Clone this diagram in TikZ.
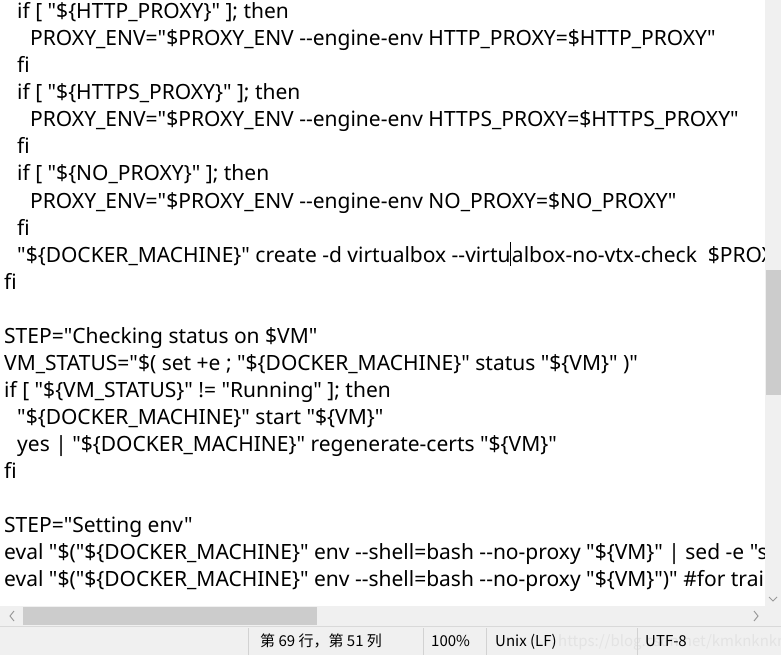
\documentclass[tikz,border=0pt]{standalone}
\usepackage{fontspec}
\newfontfamily\codef{Noto Sans}
\newfontfamily\cjk{Noto Sans CJK SC}
\begin{document}
\begin{tikzpicture}[x=1pt,y=-1pt,
  code/.style={anchor=base west,inner sep=0pt,font=\codef\fontsize{21}{21}\selectfont},
  stat/.style={anchor=base west,inner sep=0pt,font=\cjk\fontsize{15}{15}\selectfont}]
\useasboundingbox (0,0) rectangle (781,655);
\fill[white] (0,0) rectangle (781,655);
\begin{scope}
\clip (0,0) rectangle (765,606);
\foreach \ind/\t [count=\i] in {
 17/{if [ "\$\{HTTP\_PROXY\}" ]; then},
 30/{PROXY\_ENV="\$PROXY\_ENV --engine-env HTTP\_PROXY=\$HTTP\_PROXY"},
 17/{fi},
 17/{if [ "\$\{HTTPS\_PROXY\}" ]; then},
 30/{PROXY\_ENV="\$PROXY\_ENV --engine-env HTTPS\_PROXY=\$HTTPS\_PROXY"},
 17/{fi},
 17/{if [ "\$\{NO\_PROXY\}" ]; then},
 30/{PROXY\_ENV="\$PROXY\_ENV --engine-env NO\_PROXY=\$NO\_PROXY"},
 17/{fi},
 17/{"\$\{DOCKER\_MACHINE\}" create -d virtualbox --virtu},
 4/{fi},
 4/{},
 4/{STEP="Checking status on \$VM"},
 4/{VM\_STATUS="\$( set +e ; "\$\{DOCKER\_MACHINE\}" status "\$\{VM\}" )"},
 4/{if [ "\$\{VM\_STATUS\}" != "Running" ]; then},
 17/{"\$\{DOCKER\_MACHINE\}" start "\$\{VM\}"},
 17/{yes | "\$\{DOCKER\_MACHINE\}" regenerate-certs "\$\{VM\}"},
 4/{fi},
 4/{},
 4/{STEP="Setting env"},
 4/{eval "\$("\$\{DOCKER\_MACHINE\}" env --shell=bash --no-proxy "\$\{VM\}" | sed -e "s/export/SETX/g"},
 4/{eval "\$("\$\{DOCKER\_MACHINE\}" env --shell=bash --no-proxy "\$\{VM\}")" \#for trailing}
}{\node[code] (l\i) at (\ind,{19+27*(\i-1)}) {\t};}
\node[code] (l10b) at ([xshift=1pt]l10.base east) {albox-no-vtx-check\ \ \$PROXY\_ENV};
\draw[line width=1pt] ([yshift=-4pt]l10.base east) -- ([yshift=20pt]l10.base east);
\end{scope}
% vertical scrollbar
\fill[gray!12] (765,0) rectangle (781,606);
\fill[gray!40] (766,270) rectangle (781,395);
% horizontal scrollbar
\fill[gray!12] (0,606) rectangle (781,626);
\fill[gray!40] (23,607) rectangle (317,625);
\draw[gray!80,line width=1pt] (14,611) -- (10,616) -- (14,621);
\draw[gray!80,line width=1pt] (754,611) -- (758,616) -- (754,621);
\draw[gray!80,line width=1pt] (769,597) -- (773,601) -- (777,597);
% status bar
\fill[gray!12] (0,626) rectangle (781,655);
\draw[gray!30] (0,626) -- (781,626);
\node[stat,text=gray!22] (s4) at (558,646) {https://blog.csdn.net/kmknknkn};
\foreach \xx in {248,423,486,637} \draw[gray!35] (\xx,628) -- (\xx,655);
\node[stat] (s1) at (260,646) {第 69 行，第 51 列};
\node[stat] (s2) at (431,646) {100\%};
\node[stat] (s3) at (495,646) {Unix (LF)};
\node[stat] (s5) at (645,646) {UTF-8};
\end{tikzpicture}
\end{document}
